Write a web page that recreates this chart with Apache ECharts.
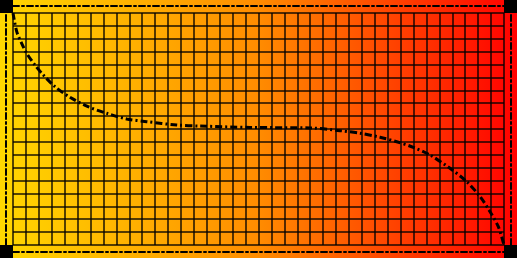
<!DOCTYPE html>
<html>
<head>
<meta charset="utf-8">
<script src="https://cdn.jsdelivr.net/npm/echarts@6/dist/echarts.min.js"></script>
<style>
html,body{margin:0;padding:0;background:#000;}
#chart{width:517px;height:258px;}
</style>
</head>
<body>
<div id="chart"></div>
<script>
// Data (x in grid columns 0..38, y in grid rows 0..18)
var xValues = [0, 0.29, 0.67, 1.06, 1.70, 2.35, 3.25, 4.41, 5.81, 7.25, 8.80, 10.35, 12.67, 14.47, 18.34, 22.99, 25.31, 26.86, 28.41, 29.70, 30.98, 32.28, 33.82, 35.12, 36.15, 36.92, 37.56, 38];
var yValues = [18, 16.55, 15.65, 14.87, 13.96, 13.19, 12.28, 11.46, 10.73, 10.22, 9.78, 9.57, 9.31, 9.23, 9.12, 9.08, 8.87, 8.67, 8.36, 8.01, 7.58, 6.98, 5.95, 4.91, 3.75, 2.58, 1.42, 0];
var xRange = [0, 38];
var yRange = [0, 18];

var seriesData = xValues.map(function (x, i) { return [x, yValues[i]]; });

var chart = echarts.init(document.getElementById('chart'), null, {renderer: 'canvas'});

var axisDash = {color: '#000', width: 2, type: [6, 3, 2, 3]};
var gridLine = {color: 'rgba(0,0,0,0.9)', width: 1.5};

function axisCommon(extra) {
  return Object.assign({
    type: 'value', interval: 1, offset: 7,
    axisLine: {show: true, onZero: false, lineStyle: axisDash},
    axisTick: {show: false}, axisLabel: {show: false}
  }, extra);
}

chart.setOption({
  animation: false,
  backgroundColor: new echarts.graphic.LinearGradient(0, 0, 1, 0, [
    {offset: 0, color: '#FFD700'},
    {offset: 0.5, color: '#FF8C00'},
    {offset: 1, color: '#FF0000'}
  ]),
  grid: {left: 13, right: 13, top: 13, bottom: 13, containLabel: false},
  xAxis: [
    axisCommon({min: xRange[0], max: xRange[1], position: 'bottom', splitLine: {show: true, lineStyle: gridLine}}),
    axisCommon({min: xRange[0], max: xRange[1], position: 'top', splitLine: {show: false}})
  ],
  yAxis: [
    axisCommon({min: yRange[0], max: yRange[1], position: 'left', splitLine: {show: true, lineStyle: gridLine}}),
    axisCommon({min: yRange[0], max: yRange[1], position: 'right', splitLine: {show: false}})
  ],
  graphic: [
    {type: 'rect', left: 0, top: 0, shape: {width: 13, height: 13}, style: {fill: '#000'}},
    {type: 'rect', right: 0, top: 0, shape: {width: 13, height: 13}, style: {fill: '#000'}},
    {type: 'rect', left: 0, bottom: 0, shape: {width: 13, height: 13}, style: {fill: '#000'}},
    {type: 'rect', right: 0, bottom: 0, shape: {width: 13, height: 13}, style: {fill: '#000'}}
  ],
  series: [{
    type: 'line',
    data: seriesData,
    smooth: 0.3,
    showSymbol: false,
    clip: false,
    lineStyle: {color: '#000', width: 3, type: [7, 3, 2, 3], cap: 'butt'}
  }]
});
</script>
</body>
</html>
